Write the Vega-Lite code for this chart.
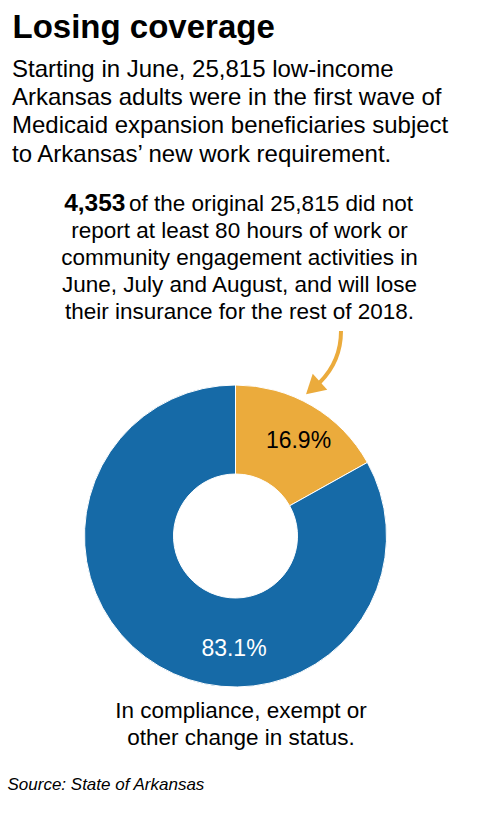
{
  "$schema": "https://vega.github.io/schema/vega-lite/v6.json",
  "description": "Donut: Arkansas Medicaid work requirement, share losing coverage",
  "width": 481,
  "height": 816,
  "padding": 0,
  "autosize": {"type": "fit", "contains": "padding"},
  "config": {
    "view": {"stroke": null},
    "text": {"font": "Liberation Sans", "color": "#000000"}
  },
  "data": {
    "values": [
      {"group": "Did not report, losing coverage", "share": 0.169},
      {"group": "In compliance, exempt or other change in status", "share": 0.831}
    ]
  },
  "layer": [
    {
      "mark": {"type": "arc", "outerRadius": 151, "innerRadius": 62, "stroke": "#ffffff", "strokeWidth": 1},
      "encoding": {
        "x": {"datum": 235.5, "type": "quantitative", "scale": {"domain": [0, 481], "nice": false, "zero": false}, "axis": null},
        "y": {"datum": 536, "type": "quantitative", "scale": {"domain": [0, 816], "nice": false, "zero": false, "reverse": true}, "axis": null},
        "theta": {"field": "share", "type": "quantitative", "stack": true},
        "order": {"field": "share", "sort": "ascending"},
        "color": {
          "field": "group",
          "type": "nominal",
          "scale": {
            "domain": ["Did not report, losing coverage", "In compliance, exempt or other change in status"],
            "range": ["#ebab3c", "#166aa7"]
          },
          "legend": null
        }
      }
    },
    {
      "transform": [{"filter": "datum.share < 0.5"}],
      "mark": {"type": "text", "fontSize": 23, "align": "center", "baseline": "alphabetic", "color": "#000000"},
      "encoding": {
        "x": {"datum": 298.5, "type": "quantitative", "axis": null},
        "y": {"datum": 448, "type": "quantitative", "axis": null},
        "text": {"field": "share", "type": "quantitative", "format": ".1%"}
      }
    },
    {
      "transform": [{"filter": "datum.share > 0.5"}],
      "mark": {"type": "text", "fontSize": 23, "align": "center", "baseline": "alphabetic", "color": "#ffffff"},
      "encoding": {
        "x": {"datum": 234, "type": "quantitative", "axis": null},
        "y": {"datum": 656, "type": "quantitative", "axis": null},
        "text": {"field": "share", "type": "quantitative", "format": ".1%"}
      }
    },
    {
      "data": {"values": [{}]},
      "mark": {"type": "arc", "outerRadius": 75, "innerRadius": 71, "theta": 1.5708, "theta2": 2.356, "color": "#ebab3c"},
      "encoding": {
        "x": {"datum": 268, "type": "quantitative", "axis": null},
        "y": {"datum": 331, "type": "quantitative", "axis": null}
      }
    },
    {
      "data": {"values": [{}]},
      "mark": {"type": "point", "shape": "triangle-up", "filled": true, "opacity": 1, "size": 470, "angle": 228, "color": "#ebab3c", "strokeWidth": 0},
      "encoding": {
        "x": {"datum": 313, "type": "quantitative", "axis": null},
        "y": {"datum": 388, "type": "quantitative", "axis": null}
      }
    },
    {
      "data": {"values": [{}]},
      "mark": {"type": "text", "text": "Losing coverage", "fontSize": 33, "fontWeight": "bold", "align": "left", "baseline": "alphabetic"},
      "encoding": {
        "x": {"datum": 12.5, "type": "quantitative", "axis": null},
        "y": {"datum": 38, "type": "quantitative", "axis": null}
      }
    },
    {
      "data": {"values": [{}]},
      "mark": {
        "type": "text",
        "text": ["Starting in June, 25,815 low-income", "Arkansas adults were in the first wave of", "Medicaid expansion beneficiaries subject", "to Arkansas’ new work requirement."],
        "fontSize": 24,
        "lineHeight": 28.4,
        "align": "left",
        "baseline": "alphabetic"
      },
      "encoding": {
        "x": {"datum": 12, "type": "quantitative", "axis": null},
        "y": {"datum": 76.5, "type": "quantitative", "axis": null}
      }
    },
    {
      "data": {"values": [{}]},
      "mark": {"type": "text", "text": "4,353", "fontSize": 24.5, "fontWeight": "bold", "align": "right", "baseline": "alphabetic"},
      "encoding": {
        "x": {"datum": 125.5, "type": "quantitative", "axis": null},
        "y": {"datum": 211, "type": "quantitative", "axis": null}
      }
    },
    {
      "data": {"values": [{}]},
      "mark": {"type": "text", "text": "of the original 25,815 did not", "fontSize": 22.5, "align": "left", "baseline": "alphabetic"},
      "encoding": {
        "x": {"datum": 129, "type": "quantitative", "axis": null},
        "y": {"datum": 211, "type": "quantitative", "axis": null}
      }
    },
    {
      "data": {"values": [{}]},
      "mark": {
        "type": "text",
        "text": ["report at least 80 hours of work or", "community engagement activities in", "June, July and August, and will lose", "their insurance for the rest of 2018."],
        "fontSize": 22.5,
        "lineHeight": 27,
        "align": "center",
        "baseline": "alphabetic"
      },
      "encoding": {
        "x": {"datum": 239.5, "type": "quantitative", "axis": null},
        "y": {"datum": 238, "type": "quantitative", "axis": null}
      }
    },
    {
      "data": {"values": [{}]},
      "mark": {
        "type": "text",
        "text": ["In compliance, exempt or", "other change in status."],
        "fontSize": 22.5,
        "lineHeight": 27,
        "align": "center",
        "baseline": "alphabetic"
      },
      "encoding": {
        "x": {"datum": 241, "type": "quantitative", "axis": null},
        "y": {"datum": 718, "type": "quantitative", "axis": null}
      }
    },
    {
      "data": {"values": [{}]},
      "mark": {"type": "text", "text": "Source: State of Arkansas", "fontSize": 17, "fontStyle": "italic", "align": "left", "baseline": "alphabetic"},
      "encoding": {
        "x": {"datum": 7.5, "type": "quantitative", "axis": null},
        "y": {"datum": 790, "type": "quantitative", "axis": null}
      }
    }
  ]
}
